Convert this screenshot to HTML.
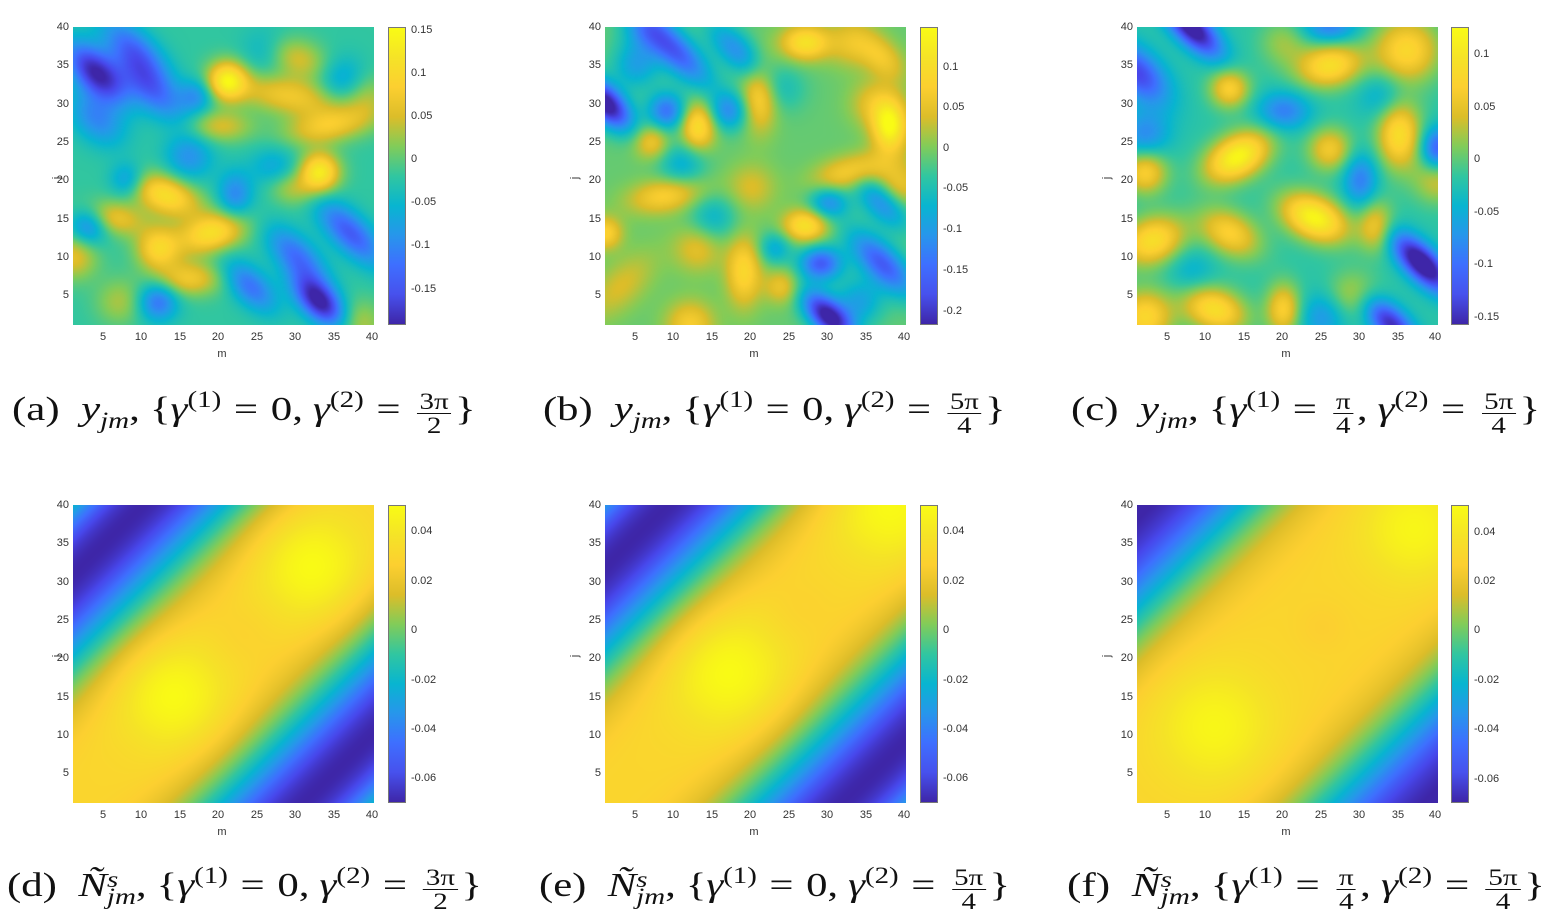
<!DOCTYPE html>
<html><head><meta charset="utf-8"><style>
body{margin:0;background:#fff;width:1551px;height:916px;position:relative;overflow:hidden;font-family:"Liberation Sans",sans-serif;}
.p{position:absolute;width:301px;height:298px;}
.p canvas{position:absolute;left:0;top:0;width:301px;height:298px;}
.cb{position:absolute;width:18px;height:298px;border:1px solid #777;box-sizing:border-box;background:linear-gradient(to top,#3e26a8,#4751ed 10%,#3e6fff 20%,#2796eb 30%,#08b5d0 40%,#31c6a0 50%,#81cc59 60%,#dcbd29 70%,#fccf30 80%,#f5e327 90%,#f9fb15);}
.t{position:absolute;font-size:11px;color:#333;white-space:nowrap;}
.xt{transform:translateX(-50%);}
.yt{transform:translate(-100%,-50%);}
.ct{transform:translateY(-50%);}
.cap{position:absolute;font-family:"Liberation Serif",serif;font-size:34px;color:#111;white-space:nowrap;transform-origin:0 0;}
.cap i{font-style:italic}
.cap sup{font-size:23px;vertical-align:13px;line-height:0}
.cap sub{font-size:23px;vertical-align:-8px;line-height:0}
.eq{margin:0 10px}
.cm{margin-right:8px}
.fr{display:inline-block;vertical-align:-13px;text-align:center;font-size:23px;line-height:23px;margin:0 3px}
.fr span{display:block;padding:0 2px}
.fr span:first-child{border-bottom:1.5px solid #111}
</style></head><body>

<div class="p" style="left:73px;top:27px;background:#4fbf9a"><canvas id="ca" width="301" height="298"></canvas></div>
<div class="p" style="left:605px;top:27px;background:#4fbf9a"><canvas id="cbb" width="301" height="298"></canvas></div>
<div class="p" style="left:1137px;top:27px;background:#4fbf9a"><canvas id="cc" width="301" height="298"></canvas></div>
<div class="p" style="left:73px;top:505px;background:linear-gradient(135deg,#3e6fff,#fccf30 50%,#3e6fff)"><canvas id="cd" width="301" height="298"></canvas></div>
<div class="p" style="left:605px;top:505px;background:linear-gradient(135deg,#3e6fff,#fccf30 50%,#3e6fff)"><canvas id="ce" width="301" height="298"></canvas></div>
<div class="p" style="left:1137px;top:505px;background:linear-gradient(135deg,#3e6fff,#fccf30 50%,#3e6fff)"><canvas id="cf" width="301" height="298"></canvas></div>

<div class="cb" style="left:388px;top:27px"></div>
<div class="cb" style="left:920px;top:27px"></div>
<div class="cb" style="left:1451px;top:27px"></div>
<div class="cb" style="left:388px;top:505px"></div>
<div class="cb" style="left:920px;top:505px"></div>
<div class="cb" style="left:1451px;top:505px"></div>

<!-- Panel a axes -->
<div class="t xt" style="left:103px;top:331px">5</div><div class="t xt" style="left:141px;top:331px">10</div><div class="t xt" style="left:180px;top:331px">15</div><div class="t xt" style="left:218px;top:331px">20</div><div class="t xt" style="left:257px;top:331px">25</div><div class="t xt" style="left:295px;top:331px">30</div><div class="t xt" style="left:334px;top:331px">35</div><div class="t xt" style="left:372px;top:331px">40</div>
<div class="t xt" style="left:222px;top:348px">m</div>
<div class="t yt" style="left:69px;top:27px">40</div><div class="t yt" style="left:69px;top:65px">35</div><div class="t yt" style="left:69px;top:104px">30</div><div class="t yt" style="left:69px;top:142px">25</div><div class="t yt" style="left:69px;top:180px">20</div><div class="t yt" style="left:69px;top:219px">15</div><div class="t yt" style="left:69px;top:257px">10</div><div class="t yt" style="left:69px;top:295px">5</div>
<div class="t" style="left:56px;top:172px;transform:rotate(-90deg)">j</div>
<div class="t ct" style="left:411px;top:30px">0.15</div><div class="t ct" style="left:411px;top:73px">0.1</div><div class="t ct" style="left:411px;top:116px">0.05</div><div class="t ct" style="left:411px;top:159px">0</div><div class="t ct" style="left:411px;top:202px">-0.05</div><div class="t ct" style="left:411px;top:245px">-0.1</div><div class="t ct" style="left:411px;top:289px">-0.15</div>

<!-- Panel b axes -->
<div class="t xt" style="left:635px;top:331px">5</div><div class="t xt" style="left:673px;top:331px">10</div><div class="t xt" style="left:712px;top:331px">15</div><div class="t xt" style="left:750px;top:331px">20</div><div class="t xt" style="left:789px;top:331px">25</div><div class="t xt" style="left:827px;top:331px">30</div><div class="t xt" style="left:866px;top:331px">35</div><div class="t xt" style="left:904px;top:331px">40</div>
<div class="t xt" style="left:754px;top:348px">m</div>
<div class="t yt" style="left:601px;top:27px">40</div><div class="t yt" style="left:601px;top:65px">35</div><div class="t yt" style="left:601px;top:104px">30</div><div class="t yt" style="left:601px;top:142px">25</div><div class="t yt" style="left:601px;top:180px">20</div><div class="t yt" style="left:601px;top:219px">15</div><div class="t yt" style="left:601px;top:257px">10</div><div class="t yt" style="left:601px;top:295px">5</div>
<div class="t" style="left:574px;top:172px;transform:rotate(-90deg)">j</div>
<div class="t ct" style="left:943px;top:67px">0.1</div><div class="t ct" style="left:943px;top:107px">0.05</div><div class="t ct" style="left:943px;top:148px">0</div><div class="t ct" style="left:943px;top:188px">-0.05</div><div class="t ct" style="left:943px;top:229px">-0.1</div><div class="t ct" style="left:943px;top:270px">-0.15</div><div class="t ct" style="left:943px;top:311px">-0.2</div>

<!-- Panel c axes -->
<div class="t xt" style="left:1167px;top:331px">5</div><div class="t xt" style="left:1205px;top:331px">10</div><div class="t xt" style="left:1244px;top:331px">15</div><div class="t xt" style="left:1282px;top:331px">20</div><div class="t xt" style="left:1321px;top:331px">25</div><div class="t xt" style="left:1359px;top:331px">30</div><div class="t xt" style="left:1398px;top:331px">35</div><div class="t xt" style="left:1435px;top:331px">40</div>
<div class="t xt" style="left:1286px;top:348px">m</div>
<div class="t yt" style="left:1133px;top:27px">40</div><div class="t yt" style="left:1133px;top:65px">35</div><div class="t yt" style="left:1133px;top:104px">30</div><div class="t yt" style="left:1133px;top:142px">25</div><div class="t yt" style="left:1133px;top:180px">20</div><div class="t yt" style="left:1133px;top:219px">15</div><div class="t yt" style="left:1133px;top:257px">10</div><div class="t yt" style="left:1133px;top:295px">5</div>
<div class="t" style="left:1106px;top:172px;transform:rotate(-90deg)">j</div>
<div class="t ct" style="left:1474px;top:54px">0.1</div><div class="t ct" style="left:1474px;top:107px">0.05</div><div class="t ct" style="left:1474px;top:159px">0</div><div class="t ct" style="left:1474px;top:212px">-0.05</div><div class="t ct" style="left:1474px;top:264px">-0.1</div><div class="t ct" style="left:1474px;top:317px">-0.15</div>

<!-- Panel d axes -->
<div class="t xt" style="left:103px;top:809px">5</div><div class="t xt" style="left:141px;top:809px">10</div><div class="t xt" style="left:180px;top:809px">15</div><div class="t xt" style="left:218px;top:809px">20</div><div class="t xt" style="left:257px;top:809px">25</div><div class="t xt" style="left:295px;top:809px">30</div><div class="t xt" style="left:334px;top:809px">35</div><div class="t xt" style="left:372px;top:809px">40</div>
<div class="t xt" style="left:222px;top:826px">m</div>
<div class="t yt" style="left:69px;top:505px">40</div><div class="t yt" style="left:69px;top:543px">35</div><div class="t yt" style="left:69px;top:582px">30</div><div class="t yt" style="left:69px;top:620px">25</div><div class="t yt" style="left:69px;top:658px">20</div><div class="t yt" style="left:69px;top:697px">15</div><div class="t yt" style="left:69px;top:735px">10</div><div class="t yt" style="left:69px;top:773px">5</div>
<div class="t" style="left:56px;top:650px;transform:rotate(-90deg)">j</div>
<div class="t ct" style="left:411px;top:531px">0.04</div><div class="t ct" style="left:411px;top:581px">0.02</div><div class="t ct" style="left:411px;top:630px">0</div><div class="t ct" style="left:411px;top:680px">-0.02</div><div class="t ct" style="left:411px;top:729px">-0.04</div><div class="t ct" style="left:411px;top:778px">-0.06</div>

<!-- Panel e axes -->
<div class="t xt" style="left:635px;top:809px">5</div><div class="t xt" style="left:673px;top:809px">10</div><div class="t xt" style="left:712px;top:809px">15</div><div class="t xt" style="left:750px;top:809px">20</div><div class="t xt" style="left:789px;top:809px">25</div><div class="t xt" style="left:827px;top:809px">30</div><div class="t xt" style="left:866px;top:809px">35</div><div class="t xt" style="left:904px;top:809px">40</div>
<div class="t xt" style="left:754px;top:826px">m</div>
<div class="t yt" style="left:601px;top:505px">40</div><div class="t yt" style="left:601px;top:543px">35</div><div class="t yt" style="left:601px;top:582px">30</div><div class="t yt" style="left:601px;top:620px">25</div><div class="t yt" style="left:601px;top:658px">20</div><div class="t yt" style="left:601px;top:697px">15</div><div class="t yt" style="left:601px;top:735px">10</div><div class="t yt" style="left:601px;top:773px">5</div>
<div class="t" style="left:574px;top:650px;transform:rotate(-90deg)">j</div>
<div class="t ct" style="left:943px;top:531px">0.04</div><div class="t ct" style="left:943px;top:581px">0.02</div><div class="t ct" style="left:943px;top:630px">0</div><div class="t ct" style="left:943px;top:680px">-0.02</div><div class="t ct" style="left:943px;top:729px">-0.04</div><div class="t ct" style="left:943px;top:778px">-0.06</div>

<!-- Panel f axes -->
<div class="t xt" style="left:1167px;top:809px">5</div><div class="t xt" style="left:1205px;top:809px">10</div><div class="t xt" style="left:1244px;top:809px">15</div><div class="t xt" style="left:1282px;top:809px">20</div><div class="t xt" style="left:1321px;top:809px">25</div><div class="t xt" style="left:1359px;top:809px">30</div><div class="t xt" style="left:1398px;top:809px">35</div><div class="t xt" style="left:1435px;top:809px">40</div>
<div class="t xt" style="left:1286px;top:826px">m</div>
<div class="t yt" style="left:1133px;top:505px">40</div><div class="t yt" style="left:1133px;top:543px">35</div><div class="t yt" style="left:1133px;top:582px">30</div><div class="t yt" style="left:1133px;top:620px">25</div><div class="t yt" style="left:1133px;top:658px">20</div><div class="t yt" style="left:1133px;top:697px">15</div><div class="t yt" style="left:1133px;top:735px">10</div><div class="t yt" style="left:1133px;top:773px">5</div>
<div class="t" style="left:1106px;top:650px;transform:rotate(-90deg)">j</div>
<div class="t ct" style="left:1474px;top:532px">0.04</div><div class="t ct" style="left:1474px;top:581px">0.02</div><div class="t ct" style="left:1474px;top:630px">0</div><div class="t ct" style="left:1474px;top:680px">-0.02</div><div class="t ct" style="left:1474px;top:729px">-0.04</div><div class="t ct" style="left:1474px;top:779px">-0.06</div>

<!-- captions -->
<div class="cap" data-w="463" style="left:12px;top:390px">(a)&nbsp; <i>y</i><sub><i>jm</i></sub><span class="cm">,</span>{<i>γ</i><sup>(1)</sup><span class="eq">=</span>0<span class="cm">,</span><i>γ</i><sup>(2)</sup><span class="eq">=</span><span class="fr"><span>3π</span><span>2</span></span>}</div>
<div class="cap" data-w="462" style="left:543px;top:390px">(b)&nbsp; <i>y</i><sub><i>jm</i></sub><span class="cm">,</span>{<i>γ</i><sup>(1)</sup><span class="eq">=</span>0<span class="cm">,</span><i>γ</i><sup>(2)</sup><span class="eq">=</span><span class="fr"><span>5π</span><span>4</span></span>}</div>
<div class="cap" data-w="469" style="left:1071px;top:390px">(c)&nbsp; <i>y</i><sub><i>jm</i></sub><span class="cm">,</span>{<i>γ</i><sup>(1)</sup><span class="eq">=</span><span class="fr"><span>π</span><span>4</span></span><span class="cm">,</span><i>γ</i><sup>(2)</sup><span class="eq">=</span><span class="fr"><span>5π</span><span>4</span></span>}</div>
<div class="cap" data-w="475" style="left:7px;top:866px">(d)&nbsp; <i>Ñ</i><sup style="vertical-align:9px"><i>s</i></sup><sub style="margin-left:-9px"><i>jm</i></sub><span class="cm">,</span>{<i>γ</i><sup>(1)</sup><span class="eq">=</span>0<span class="cm">,</span><i>γ</i><sup>(2)</sup><span class="eq">=</span><span class="fr"><span>3π</span><span>2</span></span>}</div>
<div class="cap" data-w="471" style="left:539px;top:866px">(e)&nbsp; <i>Ñ</i><sup style="vertical-align:9px"><i>s</i></sup><sub style="margin-left:-9px"><i>jm</i></sub><span class="cm">,</span>{<i>γ</i><sup>(1)</sup><span class="eq">=</span>0<span class="cm">,</span><i>γ</i><sup>(2)</sup><span class="eq">=</span><span class="fr"><span>5π</span><span>4</span></span>}</div>
<div class="cap" data-w="478" style="left:1067px;top:866px">(f)&nbsp; <i>Ñ</i><sup style="vertical-align:9px"><i>s</i></sup><sub style="margin-left:-9px"><i>jm</i></sub><span class="cm">,</span>{<i>γ</i><sup>(1)</sup><span class="eq">=</span><span class="fr"><span>π</span><span>4</span></span><span class="cm">,</span><i>γ</i><sup>(2)</sup><span class="eq">=</span><span class="fr"><span>5π</span><span>4</span></span>}</div>

<script>
var caps=document.querySelectorAll('.cap');
for(var i=0;i<caps.length;i++){var c=caps[i],w=+c.getAttribute('data-w'),ow=c.offsetWidth;if(ow>0)c.style.transform='scaleX('+(w/ow)+')';}
var P=[[0.2422,0.1504,0.6603],[0.2803,0.2782,0.9221],[0.2440,0.4358,0.9988],[0.1540,0.5902,0.9218],[0.0297,0.7082,0.8163],[0.1938,0.7758,0.6251],[0.5044,0.7993,0.3480],[0.8634,0.7406,0.1596],[0.9892,0.8136,0.1885],[0.9610,0.8890,0.1537],[0.9769,0.9839,0.0805]];
function col(t){t=Math.max(0,Math.min(1,t))*10;var i=Math.min(9,Math.floor(t)),f=t-i;var a=P[i],b=P[i+1];return [ (a[0]+(b[0]-a[0])*f)*255,(a[1]+(b[1]-a[1])*f)*255,(a[2]+(b[2]-a[2])*f)*255];}
function draw(id,fn,lo,hi){var c=document.getElementById(id),x=c.getContext('2d'),im=x.createImageData(301,298),d=im.data;
for(var py=0;py<298;py++){var j=40-py/297*39;for(var px=0;px<301;px++){var m=1+px/300*39;var v=fn(m,j);var k=col((v-lo)/(hi-lo));var o=(py*301+px)*4;d[o]=k[0];d[o+1]=k[1];d[o+2]=k[2];d[o+3]=255;}}x.putImageData(im,0,0);}
function blobs(base,B){return function(m,j){var v=base;for(var i=0;i<B.length;i++){var b=B[i],dx=m-b[0],dy=j-b[1];var sa=b[3]||2.2,sb=b[4]||sa,r=(b[5]||0)*Math.PI/180;var u=dx*Math.cos(r)+dy*Math.sin(r),w=-dx*Math.sin(r)+dy*Math.cos(r);v+=b[2]*Math.exp(-(u*u/(2*sa*sa)+w*w/(2*sb*sb)));}return v;};}
var D=-45;
draw('ca',blobs(-0.02,[[4,34,-0.17,3.5,1.8,D],[9,37,-0.1,4,1.8,D],[11,32,-0.1,4,1.8,D],[4,28,-0.08,3,2,D],[21,33,0.15,1.8],[33,21,0.15,1.8],[13,18,0.13,1.8,3.2,70],[19,13,0.13,3.2,1.8,15],[12,11,0.11,2],[6,15,0.09,1.6,3,80],[1,10,0.08],[29,31,0.09,1.8,5,80],[34,27,0.09,4,1.6,10],[30,36,0.07,1.8,3,70],[16,7,0.09,3,1.6],[29,19,0.07,1.6,2.6,80],[20,27,0.07,3,1.5],[39,31,0.05],[33,4,-0.18,3,1.6,D],[37,13,-0.12,4,1.7,D],[30,10,-0.1,3.5,1.7,D],[24,6,-0.1,3,1.6,D],[3,14,-0.1,1.8],[8,20,-0.07,1.6],[22,18,-0.08,1.6,2.2],[16,23,-0.07],[27,21,-0.06],[17,31,-0.07,1.6],[36,33,-0.06],[12,4,-0.1,1.8],[26,37,-0.04],[7,4,0.05],[38,1,0.06]]),-0.192,0.153);
draw('cbb',blobs(-0.01,[[27,38,0.12,2.2,1.6],[38,27,0.15,1.6,2.4],[13,27,0.12,1.6,2.2],[21,31,0.1,1.6,3.2],[27,14,0.12,2,1.5],[9,18,0.09,3.5,1.6,10],[33,21,0.09,3.5,1.6,15],[20,19,0.05],[1,13,0.09,1.5],[19,8,0.1,1.6,3.2],[13,11,0.06],[24,6,0.07,1.6],[12,1,0.08],[36,30,0.06],[37,36,0.07,2.5,1.6,D],[33,38,0.06],[3,6,0.05,4,2,45],[7,25,0.08,1.6],[39,19,0.07],[1,30,-0.23,3,1.6,D],[10,37,-0.15,4.5,1.7,D],[5,35,-0.08],[9,29,-0.13,1.8],[17,29,-0.1,1.8],[18,37,-0.1,3.5,1.6,D],[11,22,-0.07],[30,17,-0.1,1.8,1.5],[37,17,-0.12,3,1.6,D],[29,9,-0.15,2,1.6],[37,9,-0.15,4,1.7,D],[30,2,-0.22,3,1.5,D],[34,4,-0.08],[23,11,-0.07,1.5],[24,32,-0.04],[15,15,-0.06],[6,40,-0.06]]),-0.217,0.149);
draw('cc',blobs(-0.02,[[14,23,0.14,3.2,2,30],[24,15,0.14,2,3.2,65],[3,12,0.11,3,2.2,20],[13,13,0.09,2,3,60],[11,3,0.11,2,3,70],[2,2,0.1,2.5],[20,3,0.09,1.6,2.4],[26,35,0.11,3,2,10],[36,37,0.1,3],[35,26,0.11,2,3.2],[26,24,0.08,2],[13,32,0.09,1.8],[2,21,0.09,2],[32,14,0.08,1.6,2.3],[29,5,0.05],[40,20,0.06],[20,38,0.04],[8,40,-0.16,3.5,1.5,D],[1,34,-0.11,3.5,2,D],[20,29,-0.07,2.4,1.8],[30,20,-0.07,1.6,2.5],[40,24,-0.1,1.5,2],[38,9,-0.17,3.5,1.5,D],[34,1,-0.13,3,1.5,D],[25,2,-0.05],[26,40,-0.07,2.5,1.5],[2,26,-0.06],[33,31,-0.04],[8,8,-0.03]]),-0.158,0.126);
function band(sh,L,B){return function(m,j){var d=Math.abs(m-j-sh)/L;var v=-0.02+0.05*Math.cos(Math.PI*Math.pow(d,1.5));for(var i=0;i<B.length;i++){var b=B[i],dx=m-b[0],dy=j-b[1];v+=b[2]*Math.exp(-(dx*dx+dy*dy)/(2*b[3]*b[3]));}return v;};}
draw('cd',band(0,30,[[14,15,0.02,5],[32,32,0.02,5],[23,23,-0.003,3]]),-0.070,0.0505);
draw('ce',band(0,31,[[17,18,0.02,5.5],[38,40,0.02,5.5],[26,26,-0.003,3]]),-0.070,0.0505);
draw('cf',function(m,j){var d=(m-j)/28;var v=-0.075+0.105*Math.exp(-d*d*d*d);var a=m-11,b=j-11,c=m-37,e=j-37,f=m-25,g=j-24;v+=0.018*Math.exp(-(a*a+b*b)/60)+0.018*Math.exp(-(c*c+e*e)/50)-0.004*Math.exp(-(f*f+g*g)/10);return v;},-0.070,0.0505);
</script>
</body></html>
